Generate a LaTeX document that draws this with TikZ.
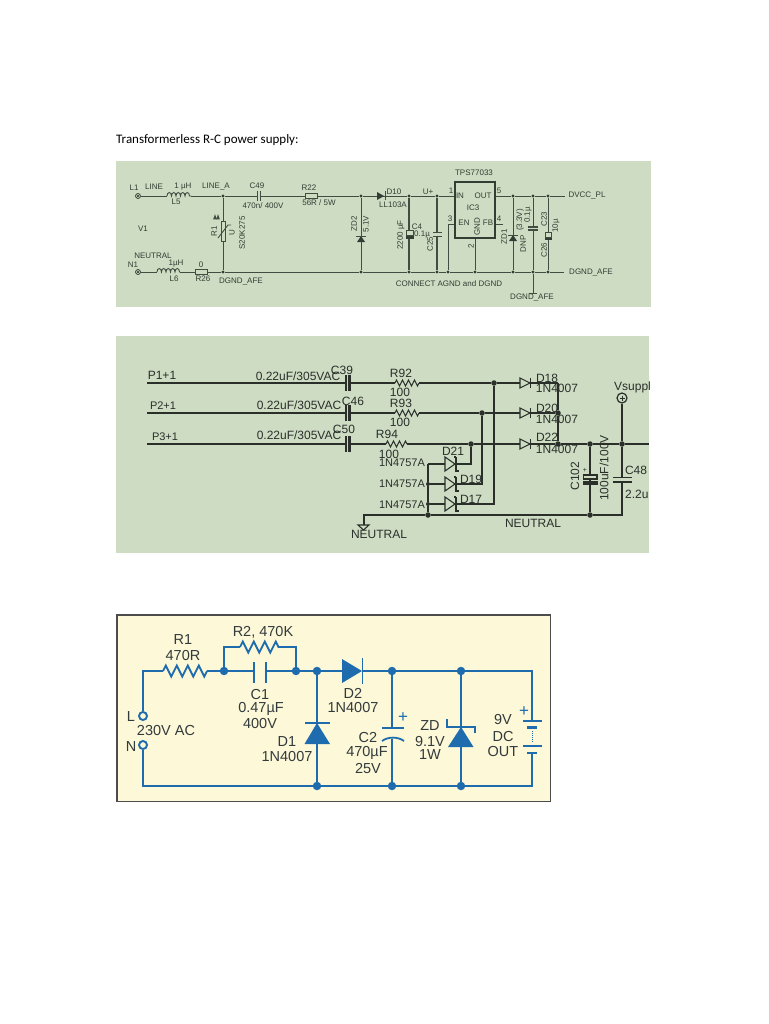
\documentclass[tikz,border=0pt]{standalone}
\usepackage{fontspec}
\setmainfont{Liberation Sans}
\newfontfamily\titlefont{Carlito}
\usetikzlibrary{decorations.pathmorphing}
\definecolor{panelgreen}{HTML}{CDDCC3}
\definecolor{panelyellow}{HTML}{FCF8D8}
\definecolor{inkA}{HTML}{333D33}
\definecolor{inkB}{HTML}{2A2F2A}
\definecolor{inkC}{HTML}{333A3C}
\definecolor{cblue}{HTML}{1E6CAE}
\newcounter{labc}
\newcommand{\lab}[3][]{\stepcounter{labc}\node[#1] (t\arabic{labc}) at (#2) {#3};}
\tikzset{
  la/.style={inner sep=0pt,text=inkA,font=\fontsize{8}{9}\selectfont},
  lb/.style={inner sep=0pt,text=inkB,font=\fontsize{12}{12}\selectfont},
  lc/.style={inner sep=0pt,text=inkC,font=\fontsize{14.5}{15}\selectfont},
  wa/.style={draw=inkA!90!panelgreen,line width=0.9pt},
  wb/.style={draw=inkB,line width=1.05pt},
  wc/.style={draw=cblue,line width=1.8pt},
  da/.style={circle,fill=inkA,inner sep=0pt,minimum size=3.2pt},
  db/.style={circle,fill=inkB,inner sep=0pt,minimum size=5.5pt},
  dbs/.style={circle,fill=inkB,inner sep=0pt,minimum size=4pt},
  dc/.style={circle,fill=cblue,inner sep=0pt,minimum size=8.5pt},
  oc/.style={circle,draw=cblue,fill=panelyellow,line width=1.9pt,inner sep=0pt,minimum size=8pt},
  resA/.style={decorate,decoration={zigzag,segment length=6pt,amplitude=3pt}},
  resC/.style={decorate,decoration={zigzag,segment length=11pt,amplitude=5.5pt}},
  coilA/.style={decorate,decoration={bumps,segment length=9pt,amplitude=3.5pt}},
}
\begin{document}
\begin{tikzpicture}[x=1pt,y=-1pt]
\useasboundingbox (0,0) rectangle (768,1024);
\fill[white] (0,0) rectangle (768,1024);
\node[anchor=west,inner sep=0pt,font=\titlefont\fontsize{13}{14}\selectfont,text=black] (title) at (116,140) {Transformerless R-C power supply:};

%% ---------- panel 1
\fill[panelgreen] (116,161) rectangle (651,307);
\node[circle,draw=inkA,line width=0.7pt,inner sep=0pt,minimum size=5pt] (L1) at (138,196) {};
\node[circle,draw=inkA,line width=0.7pt,inner sep=0pt,minimum size=5pt] (N1) at (138,272) {};
\draw[inkA,line width=0.4pt] (136.5,194.5) -- (139.5,197.5) (136.5,197.5) -- (139.5,194.5) (136.5,270.5) -- (139.5,273.5) (136.5,273.5) -- (139.5,270.5);
\coordinate (L5a) at (167,196); \coordinate (L5b) at (191,196);
\coordinate (L6a) at (157,272); \coordinate (L6b) at (180,272);
\node[da] (j1) at (223,196) {};
\node[da] (j2) at (223,272) {};
\node[da] (j3) at (361,196) {};
\node[da] (j4) at (361,272) {};
\node[da] (j5) at (409,196) {};
\node[da] (j6) at (409,272) {};
\node[da] (j7) at (437,196) {};
\node[da] (j8) at (437,272) {};
\node[da] (j9) at (448,272) {};
\node[da] (j10) at (475,272) {};
\node[da] (j11) at (513,196) {};
\node[da] (j12) at (513,272) {};
\node[da] (j13) at (533,196) {};
\node[da] (j14) at (533,272) {};
\node[da] (j15) at (548,196) {};
\node[da] (j16) at (548,272) {};
\coordinate (endT) at (565,196); \coordinate (endB) at (564,272);
\coordinate (gndA) at (533,293); \coordinate (enA) at (448,224); \coordinate (fbA) at (503,224);
\draw[wa] (L1) -- (L5a);
\draw[wa,coilA] (L5a) -- (L5b);
\draw[wa] (L5b) -- (j1) -- (j3) -- (j5) -- (j7) -- (j11) -- (j13) -- (j15) -- (endT);
\draw[wa] (N1) -- (L6a);
\draw[wa,coilA] (L6a) -- (L6b);
\draw[wa] (L6b) -- (j2) -- (j4) -- (j6) -- (j8) -- (j9) -- (j10) -- (j12) -- (j14) -- (j16) -- (endB);
\draw[wa] (j1) -- (j2); \draw[wa] (j3) -- (j4); \draw[wa,line width=1.1pt] (j5) -- (j6); \draw[wa,line width=1.1pt] (j7) -- (j8);
\draw[wa] (j9) -- (enA) -- (455,224);
\draw[wa] (j10) -- (475,238);
\draw[wa] (j11) -- (j12); \draw[wa] (j13) -- (j14); \draw[wa] (j14) -- (gndA);
\draw[wa] (j15) -- (j16);
\draw[wa] (529,293) -- (537,293);
\draw[wa] (495,224) -- (fbA);
% R26, R22, C49, R1
\draw[wa,fill=panelgreen] (195,269.5) rectangle (207,274.5);
\draw[wa,fill=panelgreen] (305,193.5) rectangle (317,198.5);
\fill[panelgreen] (257.6,192) rectangle (260.4,200);
\draw[wa,line width=1.1pt] (257.5,191) -- (257.5,201); \draw[wa,line width=1.1pt] (260.5,191) -- (260.5,201);
\draw[wa,fill=panelgreen] (221,221) rectangle (225.5,241.5);
\draw[wa] (218,238) -- (228,225) -- (231,225);
\draw[wa,-latex] (215,216.5) -- (215,214);\draw[wa,-latex] (218,216.5) -- (218,214);
% D10
\fill[inkA] (377,192) -- (384,196) -- (377,200) -- cycle;
\draw[wa] (385,191.5) -- (385,200.5);
% ZD2
\fill[inkA] (361,236) -- (365,242) -- (357,242) -- cycle;
\draw[wa] (356,236) -- (366,236);
% C4
\draw[wa,fill=panelgreen] (406,230) rectangle (413,235);
\fill[inkA] (405.5,236) rectangle (413.5,238.5);
% C25
\fill[panelgreen] (433,233) rectangle (442,236);
\draw[wa] (433,232.5) -- (442,232.5); \draw[wa] (433,236) -- (442,236);
% ZD1
\fill[inkA] (513,235) -- (517,241) -- (509,241) -- cycle;
\draw[wa] (508,235) -- (518,235);
% C (0.1u)
\fill[panelgreen] (528,227) rectangle (538,230);
\draw[wa,line width=1.1pt] (528,227) -- (538,227); \draw[wa,line width=1.1pt] (528,230) -- (538,230);
% C23
\draw[wa,fill=panelgreen] (545.5,232) rectangle (551.5,237);
\fill[inkA] (545,238) rectangle (552,240);
% IC
\draw[draw=inkA,fill=panelgreen,line width=1.2pt] (455,182) rectangle (495,238);
% text
\lab[la]{134,188}{L1} \lab[la]{154,187}{LINE} \lab[la]{183,187}{1 µH} \lab[la]{176,202}{L5}
\lab[la]{216,187}{LINE\_A} \lab[la]{257,186}{C49} \lab[la]{263,206}{470n/ 400V}
\lab[la]{309,188}{R22} \lab[la]{319,203}{56R / 5W} \lab[la]{394,192}{D10} \lab[la]{393,205}{LL103A}
\lab[la]{143,229}{V1} \lab[la,rotate=90]{214,231}{R1} \lab[la,rotate=90]{232,233}{U} \lab[la,rotate=90]{242,233}{S20K275}
\lab[la]{153,256}{NEUTRAL} \lab[la]{133,265}{N1} \lab[la]{176,264}{1µH} \lab[la]{174,279}{L6}
\lab[la]{201,265}{0} \lab[la]{203,279}{R26} \lab[la]{241,282}{DGND\_AFE}
\lab[la,rotate=90]{354,224}{ZD2} \lab[la,rotate=90]{366,224}{5.1V}
\lab[la]{428,192}{U+} \lab[la]{474,173}{TPS77033} \lab[la]{451,191}{1} \lab[la]{460,196}{IN}
\lab[la]{483,196}{OUT} \lab[la]{499,191}{5} \lab[la]{473,208}{IC3} \lab[la]{450,219}{3}
\lab[la]{464,223}{EN} \lab[la,rotate=90]{477,227}{GND} \lab[la]{488,223}{FB} \lab[la]{499,219}{4}
\lab[la,rotate=90]{471,246}{2} \lab[la,rotate=90]{401,235}{2200 µF} \lab[la]{417,227}{C4}
\lab[la]{422,235}{0.1µ} \lab[la,rotate=90]{430,244}{C25} \lab[la,rotate=90]{504,237}{ZD1}
\lab[la,rotate=90]{520,220}{(3.3V)} \lab[la,rotate=90]{523,244}{DNP} \lab[la,rotate=90]{528,215}{0.1µ}
\lab[la,rotate=90]{544,219}{C23} \lab[la,rotate=90]{556,226}{10µ} \lab[la,rotate=90]{544,250}{C26}
\lab[la]{587,196}{DVCC\_PL} \lab[la]{591,273}{DGND\_AFE}
\lab[la]{449,284}{CONNECT AGND and DGND} \lab[la]{532,298}{DGND\_AFE}

%% ---------- panel 2
\fill[panelgreen] (116,336) rectangle (649,553);
\begin{scope}
\clip (116,336) rectangle (649,553);
\coordinate (p1) at (147,383); \coordinate (p2) at (147,413); \coordinate (p3) at (147,444);
\coordinate (r1a) at (395,383); \coordinate (r1b) at (419,383);
\coordinate (r2a) at (395,413); \coordinate (r2b) at (419,413);
\coordinate (r3a) at (386,444); \coordinate (r3b) at (407,444);
\node[db] (a1) at (494,383) {};
\node[db] (a2) at (482,413) {};
\node[db] (a3) at (471,444) {};
\node[db] (b2) at (558,413) {};
\node[db] (b3) at (558,444) {};
\coordinate (b1) at (558,383);
\node[db] (c1) at (590,444) {};
\node[db] (c2) at (622,444) {};
\coordinate (eR) at (649,444);
\node[circle,draw=inkB,line width=1.2pt,inner sep=0pt,minimum size=10pt] (vs) at (622,398) {};
\draw[inkB,line width=0.9pt] (619.5,398) -- (624.5,398) (622,395.5) -- (622,400.5);
\coordinate (n0) at (364,515); \coordinate (n0g) at (364,525);
\node[db] (n1) at (428,515) {};
\node[db] (n2) at (590,515) {};
\coordinate (n3) at (622,515);
\coordinate (v21) at (428,464);
\node[dbs] (v19) at (428,484) {};
\node[dbs] (v17) at (428,504) {};
\coordinate (k21) at (471,464); \coordinate (k19) at (482,484); \coordinate (k17) at (494,504);
\draw[wb] (p1) -- (r1a); \draw[wb,resA] (r1a) -- (r1b); \draw[wb] (r1b) -- (a1) -- (b1);
\draw[wb] (p2) -- (r2a); \draw[wb,resA] (r2a) -- (r2b); \draw[wb] (r2b) -- (a2) -- (b2);
\draw[wb] (p3) -- (r3a); \draw[wb,resA] (r3a) -- (r3b); \draw[wb] (r3b) -- (a3) -- (b3) -- (c1) -- (c2) -- (eR);
\draw[wb] (b1) -- (b2) -- (b3);
\draw[wb] (vs) -- (c2) -- (n3) -- (n2) -- (n1) -- (n0) -- (n0g);
\draw[wb] (c1) -- (n2);
\draw[wb] (v21) -- (v19) -- (v17) -- (n1);
\draw[wb] (v21) -- (k21) -- (a3);
\draw[wb] (v19) -- (k19) -- (a2);
\draw[wb] (v17) -- (k17) -- (a1);
% ground
\draw[wb,fill=panelgreen] (358,525) -- (369,525) -- (363.5,530) -- cycle;
% input caps
\foreach \y in {383,413,444}{
  \fill[panelgreen] (347,\y-6) rectangle (348.5,\y+6);
  \fill[inkB] (345,\y-8) rectangle (347.2,\y+8);
  \fill[inkB] (348.3,\y-8) rectangle (350.5,\y+8);
}
% diodes
\foreach \y in {383,413,444}{
  \draw[wb,fill=panelgreen] (520,\y-5) -- (530,\y) -- (520,\y+5) -- cycle;
  \draw[wb] (530.5,\y-5) -- (530.5,\y+5);
}
\foreach \y in {464,484,504}{
  \draw[wb,fill=panelgreen] (445,\y-7) -- (455,\y) -- (445,\y+7) -- cycle;
  \draw[wb] (456,\y-7) -- (456,\y+7) -- (458.5,\y+7);
  \draw[wb] (456,\y-7) -- (453.5,\y-7);
}
% C102
\draw[wb,fill=panelgreen] (583.5,475) rectangle (597,479);
\fill[inkB] (583,481) rectangle (597.5,484.5);
\lab[lb,font=\fontsize{7}{8}\selectfont]{585,470}{+}
% C48
\fill[panelgreen] (613,477.5) rectangle (632,481.5);
\fill[inkB] (613,476.5) rectangle (632,478.3);
\fill[inkB] (613,481) rectangle (632,482.8);
% labels
\lab[lb]{162,375}{P1+1} \lab[lb,font=\fontsize{11}{12}\selectfont]{163,406}{P2+1} \lab[lb,font=\fontsize{11}{12}\selectfont]{165,437}{P3+1}
\lab[lb]{298,376}{0.22uF/305VAC} \lab[lb]{299,405}{0.22uF/305VAC} \lab[lb]{299,435}{0.22uF/305VAC}
\lab[lb]{342,370}{C39} \lab[lb]{353,401}{C46} \lab[lb]{344,429}{C50}
\lab[lb]{379,534}{NEUTRAL}
\lab[lb]{401,373}{R92} \lab[lb]{400,392}{100} \lab[lb]{401,403}{R93} \lab[lb]{400,422}{100}
\lab[lb]{387,434}{R94} \lab[lb]{389,454}{100}
\lab[lb,font=\fontsize{11}{12}\selectfont]{402,463}{1N4757A} \lab[lb,font=\fontsize{11}{12}\selectfont]{402,484}{1N4757A} \lab[lb,font=\fontsize{11}{12}\selectfont]{402,505}{1N4757A}
\lab[lb]{453,451}{D21} \lab[lb]{471,479}{D19} \lab[lb]{471,499}{D17}
\lab[lb]{547,378}{D18} \lab[lb]{557,388}{1N4007} \lab[lb]{547,408}{D20} \lab[lb]{557,419}{1N4007}
\lab[lb]{547,437}{D22} \lab[lb]{557,449}{1N4007}
\lab[lb,anchor=west]{614,387}{Vsuppl}
\lab[lb,rotate=90]{575,476}{C102} \lab[lb,rotate=90]{604,468}{100uF/100V}
\lab[lb]{636,470}{C48} \lab[lb,anchor=west]{625,494}{2.2u}
\lab[lb]{533,523}{NEUTRAL}
\end{scope}

%% ---------- panel 3
\fill[panelyellow,draw=black!70,line width=1.2pt] (117,615) rectangle (550.5,801.5);
\node[oc] (L) at (143,716) {};
\node[oc] (N) at (143,745) {};
\coordinate (tl) at (143,671); \coordinate (bl) at (143,786);
\coordinate (r1a3) at (163,671); \coordinate (r1b3) at (207,671);
\node[dc] (q1) at (224,671) {};
\coordinate (c1a) at (254,671); \coordinate (c1b) at (266,671);
\node[dc] (q2) at (296,671) {};
\coordinate (r2l) at (224,647); \coordinate (r2r) at (296,647);
\coordinate (r2a3) at (240,647); \coordinate (r2b3) at (282,647);
\node[dc] (q3) at (317,671) {};
\node[dc] (q4) at (317,786) {};
\coordinate (d2a) at (342,671); \coordinate (d2b) at (362,671);
\node[dc] (q5) at (392,671) {};
\node[dc] (q6) at (392,786) {};
\node[dc] (q7) at (461,671) {};
\node[dc] (q8) at (461,786) {};
\coordinate (tr) at (532,671); \coordinate (br) at (532,786);
\coordinate (batT) at (532,721); \coordinate (batB) at (532,753);
\coordinate (c2T) at (392,728); \coordinate (c2B) at (392,739);
\draw[wc] (L) -- (tl) -- (r1a3);
\draw[wc,resC] (r1a3) -- (r1b3);
\draw[wc] (r1b3) -- (q1) -- (c1a);
\draw[wc] (c1b) -- (q2) -- (q3) -- (d2a);
\draw[wc] (d2b) -- (q5) -- (q7) -- (tr) -- (batT);
\draw[wc] (q1) -- (r2l) -- (r2a3);
\draw[wc,resC] (r2a3) -- (r2b3);
\draw[wc] (r2b3) -- (r2r) -- (q2);
\draw[wc] (N) -- (bl) -- (q4) -- (q6) -- (q8) -- (br) -- (batB);
\draw[wc] (q3) -- (q4);
\draw[wc] (q5) -- (c2T); \draw[wc] (c2B) -- (q6);
\draw[wc] (q7) -- (q8);
\draw[wc] (254,662) -- (254,683); \draw[wc] (266,662) -- (266,683);
% D1
\fill[cblue] (317,723) -- (330,744) -- (304.5,744) -- cycle;
\draw[wc] (305,723) -- (330,723);
% D2
\fill[cblue] (342,659) -- (362,671) -- (342,683) -- cycle;
\draw[wc] (362.5,658) -- (362.5,684);
% C2
\draw[wc] (382,728) -- (404,728);
\draw[wc] (382,741) .. controls (388,736.5) and (398,736.5) .. (404,741);
% ZD
\fill[cblue] (461,727) -- (473.5,747) -- (448,747) -- cycle;
\draw[wc,line width=2.2pt] (447,719) -- (447,727) -- (475,727) -- (475,733);
% battery
\draw[wc,line width=2.2pt] (523,721) -- (542,721);
\draw[wc,line width=2.2pt] (527,727.5) -- (537,727.5);
\draw[cblue,line width=1pt,densely dotted] (532,731) -- (532,743);
\draw[wc,line width=2.2pt] (523,746) -- (542,746);
\draw[wc,line width=2.2pt] (527,753) -- (537,753);
% labels
\lab[lc]{183,640}{R1} \lab[lc]{183,656}{470R} \lab[lc]{263,632}{R2, 470K}
\lab[lc]{260,695}{C1} \lab[lc]{261,709}{0.47µF} \lab[lc]{260,724}{400V}
\lab[lc]{131,717}{L} \lab[lc]{166,731}{230V AC} \lab[lc]{131,747}{N}
\lab[lc]{287,742}{D1} \lab[lc]{287,756}{1N4007} \lab[lc]{353,693}{D2} \lab[lc]{353,707}{1N4007}
\lab[lc,text=cblue,font=\fontsize{17}{18}\selectfont]{403,718}{+} \lab[lc]{368,738}{C2} \lab[lc]{367,753}{470µF} \lab[lc]{368,768}{25V}
\lab[lc]{430,726}{ZD} \lab[lc]{430,741}{9.1V} \lab[lc]{430,755}{1W}
\lab[lc]{503,720}{9V} \lab[lc]{503,736}{DC} \lab[lc]{503,751}{OUT}
\lab[lc,text=cblue,font=\fontsize{17}{18}\selectfont]{524,712}{+}
\end{tikzpicture}
\end{document}
